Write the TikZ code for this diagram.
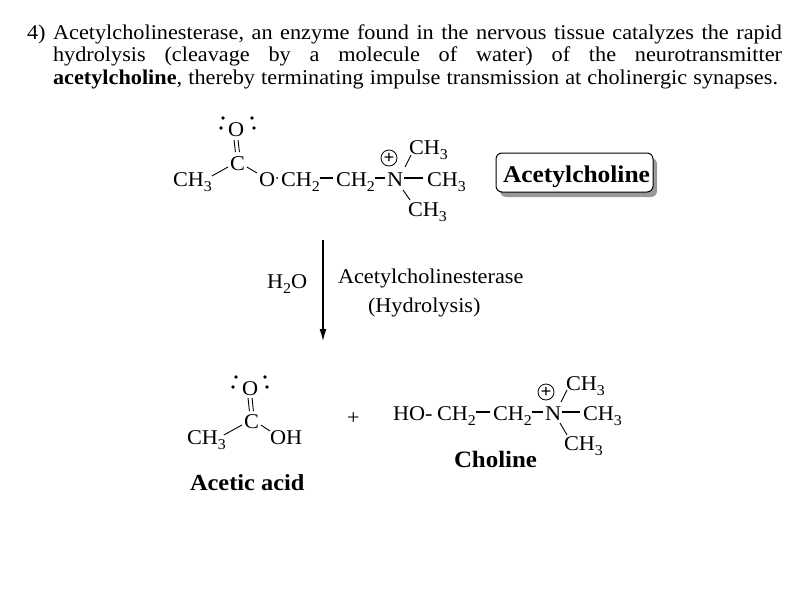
\documentclass[tikz,border=0pt]{standalone}
\usepackage{fontspec}
\setmainfont{Liberation Serif}[FakeStretch=1.06]
\usetikzlibrary{shadows,arrows.meta}
\tikzset{
  x=1pt,y=-1pt,
  txt/.style={inner sep=0pt,outer sep=0pt,anchor=base west,font=\fontsize{21}{24}\selectfont},
  bond/.style={line width=1.3pt,black},
  thin bond/.style={line width=0.9pt,black},
  dbl bond/.style={line width=0.9pt,black},
  dot/.style={circle,fill=black,inner sep=0pt,minimum size=3.8pt},
  plus/.style={circle,draw,line width=0.8pt,inner sep=0pt,minimum size=16pt,font=\fontsize{18}{18}\selectfont\bfseries},
  heading/.style={txt,font=\fontsize{23}{24}\selectfont\bfseries},
}
\newcommand{\three}{\raisebox{-5pt}{\fontsize{15}{15}\selectfont 3}}
\newcommand{\two}{\raisebox{-5pt}{\fontsize{15}{15}\selectfont 2}}
\newcommand{\justline}[2]{\makebox[#1][s]{#2}}
\begin{document}
\begin{tikzpicture}
\useasboundingbox (0,0) rectangle (810,594);
% paragraph
\node[txt] (l1) at (27,40) {\justline{755pt}{4)\hfill Acetylcholinesterase,\hfill an\hfill enzyme\hfill found\hfill in\hfill the\hfill nervous\hfill tissue\hfill catalyzes\hfill the\hfill rapid}};
\node[txt] (l2) at (53,62) {\justline{729pt}{hydrolysis\hfill (cleavage\hfill by\hfill a\hfill molecule\hfill of\hfill water)\hfill of\hfill the\hfill neurotransmitter}};
\node[txt] (l3) at (53,84.5) {\justline{725pt}{\textbf{acetylcholine},\hfill thereby\hfill terminating\hfill impulse\hfill transmission\hfill at\hfill cholinergic\hfill synapses.}};
% acetylcholine
\node[txt] (o1) at (228,136) {O};
\node[dot] (d1) at (221,128) {}; \node[dot] (d2) at (223,118) {}; \node[dot] (d3) at (254,128) {}; \node[dot] (d4) at (252,118) {};
\node[txt] (c1) at (230,170) {C};
\node[txt] (me1) at (173,186) {CH\three};
\node[txt] (o2) at (259,186) {O};
\node[txt] (ch2a) at (281,186) {CH\two};
\node[txt] (ch2b) at (336,186) {CH\two};
\node[txt] (n1) at (387,186) {N};
\node[txt] (me2) at (409,154) {CH\three};
\node[txt] (me3) at (427,186) {CH\three};
\node[txt] (me4) at (408,216) {CH\three};
\node[plus] (p1) at (389,158) {+};
\fill ([shift={(2,-8)}]o2.base east) circle (1pt);
\draw[dbl bond] ([shift={(-2,4)}]o1.base) -- ([shift={(-2,-4)}]c1.north);
\draw[dbl bond] ([shift={(2,4)}]o1.base) -- ([shift={(2,-4)}]c1.north);
\draw[thin bond] ([shift={(0,-10)}]me1.base east) -- ([shift={(-2,-3)}]c1.base west);
\draw[thin bond] ([shift={(2,-3)}]c1.base east) -- ([shift={(-2,-13)}]o2.base west);
\draw[bond] ([shift={(0,-8)}]ch2a.base east) -- ([shift={(-3,-8)}]ch2b.base west);
\draw[bond] ([shift={(0,-8)}]ch2b.base east) -- ([shift={(-2,-8)}]n1.base west);
\draw[bond] ([shift={(1,-8)}]n1.base east) -- ([shift={(-4,-8)}]me3.base west);
\draw[thin bond] ([shift={(10,-19)}]n1.base) -- ([shift={(2,1)}]me2.base west);
\draw[thin bond] ([shift={(8,4)}]n1.base) -- ([shift={(2,-16)}]me4.base west);
% box
\node[txt,anchor=center,font=\fontsize{24}{24}\selectfont\bfseries,draw,line width=1pt,fill=white,rounded corners=6pt,
  minimum width=157pt,minimum height=39pt,drop shadow={shadow xshift=4pt,shadow yshift=-5pt,fill=black!40,opacity=1}] (box) at (574.5,172.5) {\hspace*{4pt}\raisebox{-9.5pt}[0pt][0pt]{Acetylcholine}};
% reaction arrow
\coordinate (a1) at (323,240); \coordinate (a2) at (323,341);
\draw[line width=1.3pt,-{Latex[length=12pt,width=7pt]}] (a1) -- (a2);
\node[txt] (h2o) at (267,288) {H\two O};
\node[txt] (enz) at (338,283) {Acetylcholinesterase};
\node[txt] (hyd) at (368,312) {(Hydrolysis)};
% acetic acid
\node[txt] (o3) at (242,395) {O};
\node[txt] (c3) at (244,428) {C};
\node[txt] (me5) at (187,444) {CH\three};
\node[txt] (oh) at (270,444) {OH};
\node[dot] (d5) at (233,387) {}; \node[dot] (d6) at (236,377) {}; \node[dot] (d7) at (267,387) {}; \node[dot] (d8) at (265,377) {};
\draw[dbl bond] ([shift={(-2,3)}]o3.base) -- ([shift={(-2,-3)}]c3.north);
\draw[dbl bond] ([shift={(2,3)}]o3.base) -- ([shift={(2,-3)}]c3.north);
\draw[thin bond] ([shift={(-2,-9)}]me5.base east) -- ([shift={(-2,-3)}]c3.base west);
\draw[thin bond] ([shift={(2,-3)}]c3.base east) -- ([shift={(0,-13)}]oh.base west);
\node[heading] (aa) at (190,490) {Acetic acid};
% plus
\node[txt] (pl) at (347,424) {+};
% choline
\node[txt] (ho) at (393,420) {HO-};
\node[txt] (ch2c) at (437,420) {CH\two};
\node[txt] (ch2d) at (493,420) {CH\two};
\node[txt] (n2) at (545,420) {N};
\node[txt] (me6) at (566,390) {CH\three};
\node[txt] (me7) at (583,420) {CH\three};
\node[txt] (me8) at (564,450) {CH\three};
\node[plus] (p2) at (546,392) {+};
\draw[bond] ([shift={(0,-8)}]ch2c.base east) -- ([shift={(-3,-8)}]ch2d.base west);
\draw[bond] ([shift={(0,-8)}]ch2d.base east) -- ([shift={(-2,-8)}]n2.base west);
\draw[bond] ([shift={(1,-8)}]n2.base east) -- ([shift={(-3,-8)}]me7.base west);
\draw[thin bond] ([shift={(8,-18)}]n2.base) -- ([shift={(1,0)}]me6.base west);
\draw[thin bond] ([shift={(7,3)}]n2.base) -- ([shift={(3,-15)}]me8.base west);
\node[heading,font=\fontsize{23.5}{24}\selectfont\bfseries] (cho) at (454,467) {Choline};
\end{tikzpicture}
\end{document}
